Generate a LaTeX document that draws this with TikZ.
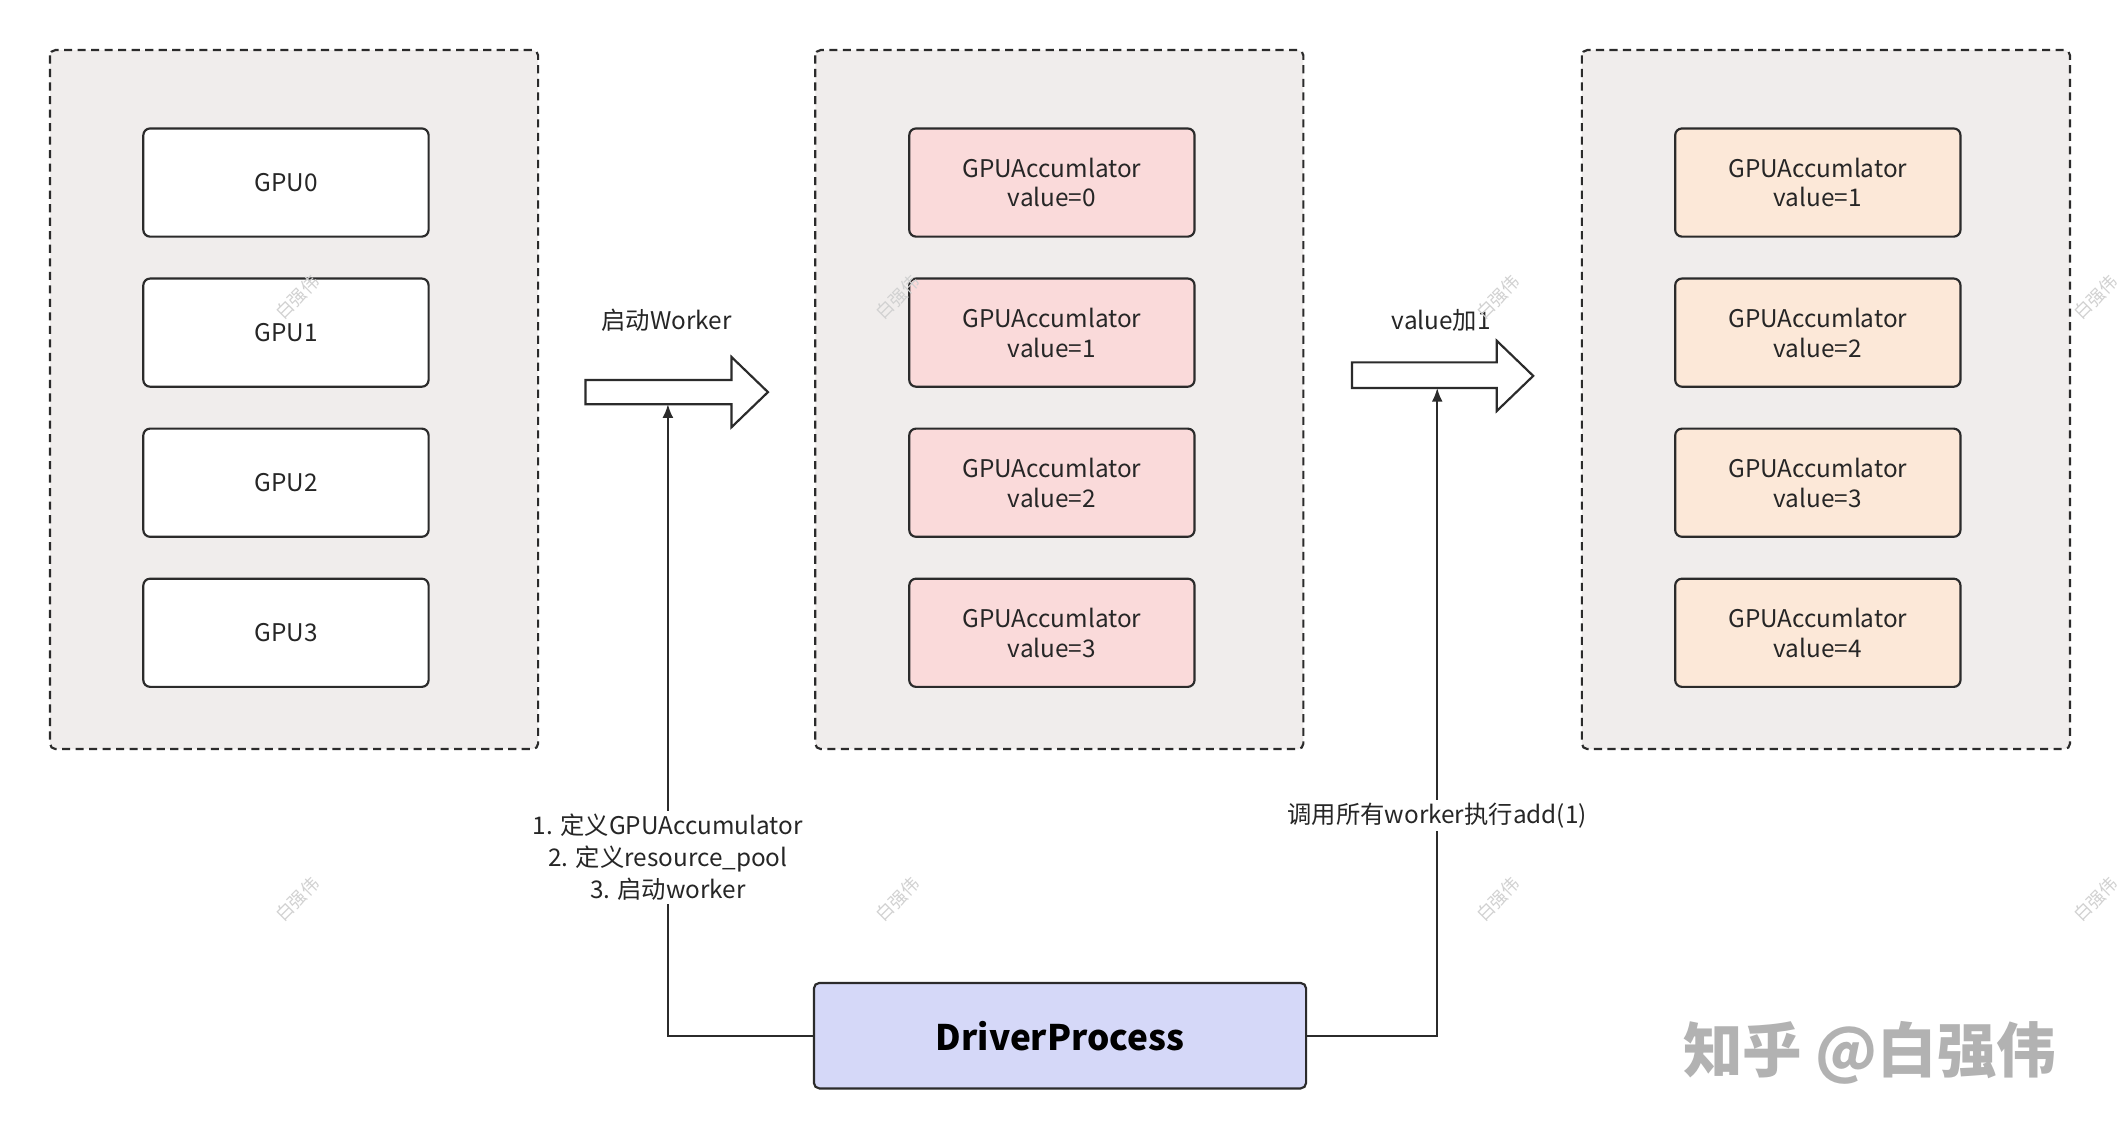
\documentclass[tikz,border=0pt]{standalone}
\usepackage{fontspec}
\setmainfont{Noto Sans CJK SC}
\usetikzlibrary{arrows.meta}
\definecolor{cont}{HTML}{F0EDEC}
\definecolor{pinkf}{HTML}{FADADA}
\definecolor{orgf}{HTML}{FCE8D8}
\definecolor{drv}{HTML}{D5D8F8}
\definecolor{edge}{HTML}{2B2B2B}
\begin{document}
\begin{tikzpicture}[x=0.5pt,y=-0.5pt,
 container/.style={draw=edge,fill=cont,dashed,line width=0.8pt,dash pattern=on 3pt off 2pt,rounded corners=2pt},
 box/.style={draw=edge,line width=0.8pt,rounded corners=2.5pt,minimum width=105.5pt,minimum height=40pt,inner sep=0pt,align=center,font=\fontsize{9}{11}\selectfont,text=black!85},
 big/.style={draw=edge,line width=0.8pt,fill=white,line join=miter},
 conn/.style={draw=edge,line width=0.7pt,-{Latex[length=5pt,width=4pt]}},
 lbl/.style={font=\fontsize{9}{10.5}\selectfont,text=black!85,align=center},
 wm/.style={font=\fontsize{6.5}{7}\selectfont,text=black!18,rotate=45}]
\useasboundingbox (0,0) rectangle (1568,843);
\fill[white] (0,0) rectangle (1568,843);
\draw[container] (37,37) rectangle (398,554);
\draw[container] (603,37) rectangle (964,554);
\draw[container] (1170,37) rectangle (1531,554);
\foreach \i/\y in {0/135,1/246,2/357,3/468}{
 \node[box,fill=white] (g\i) at (211.5,\y) {GPU\i};
 \node[box,fill=pinkf] (p\i) at (778,\y) {GPUAccumlator\\value=\i};
 \pgfmathtruncatemacro{\j}{\i+1}
 \node[box,fill=orgf] (o\i) at (1344.5,\y) {GPUAccumlator\\value=\j};
}
\draw[big] (433,281) -- (541,281) -- (541,264) -- (568,290) -- (541,316) -- (541,299) -- (433,299) -- cycle;
\draw[big] (1000,268) -- (1107,268) -- (1107,252) -- (1134,278) -- (1107,304) -- (1107,287) -- (1000,287) -- cycle;
\node[lbl] at (493,237) {启动Worker};
\node[lbl] at (1066,237) {value加1};
\node[draw=edge,line width=0.8pt,fill=drv,rounded corners=2pt,minimum width=182pt,minimum height=39pt,font=\fontsize{13}{15}\selectfont\bfseries] (d) at (784,766) {DriverProcess};
\coordinate (t1) at (494,299);
\coordinate (t2) at (1063,287);
\draw[conn] (d.west) -- (494,766) -- (t1);
\draw[conn] (d.east) -- (1063,766) -- (t2);
\node[lbl,fill=white,inner sep=1pt,font=\fontsize{9}{12}\selectfont] at (494,634) {1. 定义GPUAccumulator\\2. 定义resource\_pool\\3. 启动worker};
\node[lbl,fill=white,inner sep=1pt] at (1063,603) {调用所有worker执行add(1)};
\foreach \x in {220,664,1108,1550}{
 \node[wm] at (\x,220) {白强伟};
 \node[wm] at (\x,665) {白强伟};
}
\node[font=\fontsize{22}{24}\selectfont\bfseries,text=black!30,anchor=east] at (1528,779) {知乎 @白强伟};
\end{tikzpicture}
\end{document}
